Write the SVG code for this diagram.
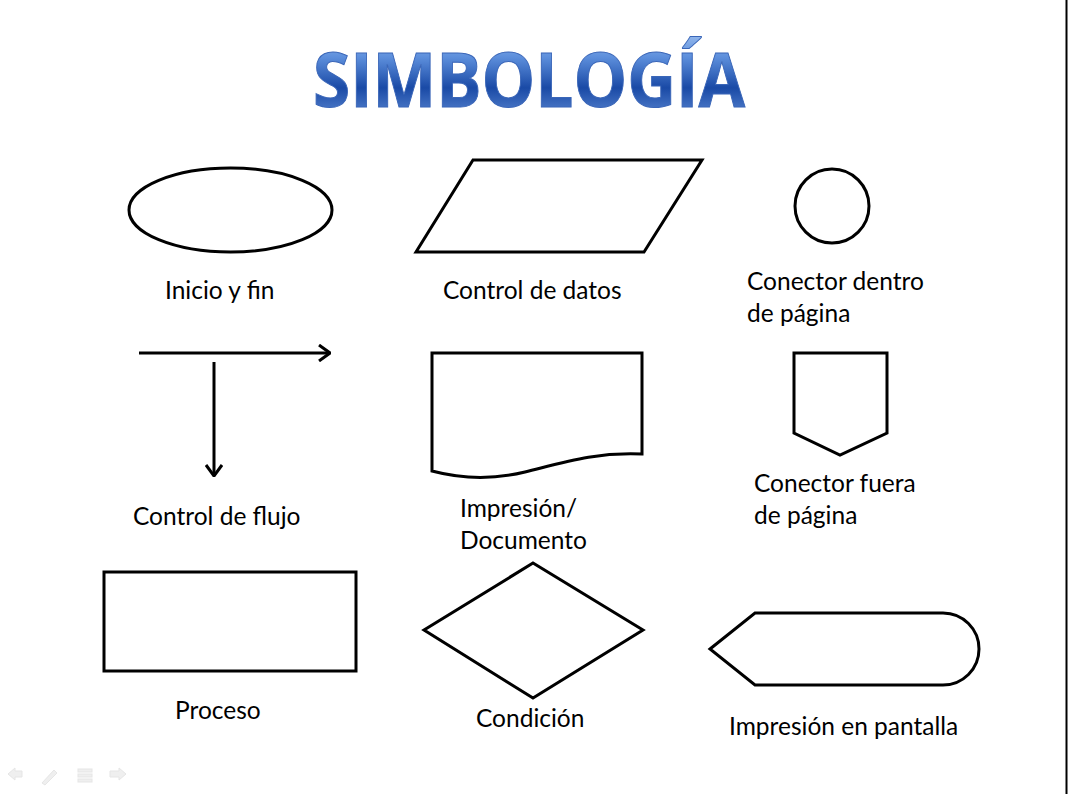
<svg xmlns="http://www.w3.org/2000/svg" width="1068" height="794" viewBox="0 0 1068 794">
  <defs>
    <linearGradient id="titleGrad" x1="0" y1="0" x2="0" y2="1">
      <stop offset="0" stop-color="#a9c8f2"/>
      <stop offset="0.3" stop-color="#5d8fdc"/>
      <stop offset="0.6" stop-color="#1a4aa6"/>
      <stop offset="1" stop-color="#6f9be0"/>
    </linearGradient>
    <marker id="arrow" viewBox="0 0 13 18" refX="12" refY="9" markerWidth="13" markerHeight="18" markerUnits="userSpaceOnUse" orient="auto">
      <path d="M1,1 L12,9 L1,17" fill="none" stroke="#000" stroke-width="3"/>
    </marker>
  </defs>
  <style>
    .shape { fill: #ffffff; stroke: #000000; stroke-width: 3; stroke-linejoin: miter; }
    .lbl { font-family: "Lato", "Liberation Sans", sans-serif; font-size: 24.5px; fill: #000000; }
    .conn { fill: none; stroke: #000000; stroke-width: 3; }
    .nav { fill: #ececec; stroke: #e0e0e0; stroke-width: 1; }
  </style>
  <rect x="0" y="0" width="1068" height="794" fill="#ffffff"/>
  <line x1="1066.5" y1="0" x2="1066.5" y2="794" stroke="#000" stroke-width="2"/>

  <g id="title">
    <text x="529" y="107" text-anchor="middle" font-family="'Open Sans', 'Liberation Sans', sans-serif" font-weight="bold" font-size="76" textLength="432" lengthAdjust="spacingAndGlyphs" fill="url(#titleGrad)" stroke="#3a66b8" stroke-width="1">SIMBOLOGÍA</text>
  </g>

  <g id="inicio-fin">
    <ellipse class="shape" cx="230.5" cy="210" rx="101.5" ry="42"/>
    <text class="lbl" x="165" y="299">Inicio y fin</text>
  </g>

  <g id="control-datos">
    <polygon class="shape" points="473,160 702,160 644,252 416,252"/>
    <text class="lbl" x="443" y="299">Control de datos</text>
  </g>

  <g id="conector-dentro">
    <circle class="shape" cx="832" cy="206" r="37"/>
    <text class="lbl" x="747" y="290">Conector dentro</text>
    <text class="lbl" x="747" y="322">de página</text>
  </g>

  <g id="connectors">
    <line class="conn" x1="139" y1="353" x2="330" y2="353" marker-end="url(#arrow)"/>
    <line class="conn" x1="214" y1="362" x2="214" y2="476" marker-end="url(#arrow)"/>
  </g>

  <g id="control-flujo">
    <text class="lbl" x="133" y="525">Control de flujo</text>
  </g>

  <g id="documento">
    <path class="shape" d="M432,353 H642 V454 C595,452 565,462 525,472 C492,480 462,479 432,471 Z"/>
    <text class="lbl" x="460" y="517">Impresión/</text>
    <text class="lbl" x="460" y="549">Documento</text>
  </g>

  <g id="conector-fuera">
    <polygon class="shape" points="794,353 887,353 887,433 840,455 794,433"/>
    <text class="lbl" x="754" y="492">Conector fuera</text>
    <text class="lbl" x="754" y="524">de página</text>
  </g>

  <g id="proceso">
    <rect class="shape" x="104" y="572" width="252" height="99"/>
    <text class="lbl" x="175" y="719">Proceso</text>
  </g>

  <g id="condicion">
    <polygon class="shape" points="533,563 643,630 533,698 424,630"/>
    <text class="lbl" x="476" y="727">Condición</text>
  </g>

  <g id="pantalla">
    <path class="shape" d="M710,649 L755,613 H943 A36,36 0 0 1 943,685 H755 Z"/>
    <text class="lbl" x="729" y="735">Impresión en pantalla</text>
  </g>

  <g id="nav-icons" opacity="0.8">
    <path class="nav" d="M8,774 L15,768 V771 H22 V777 H15 V780 Z"/>
    <path class="nav" d="M42,783 L54,770 L57,773 L45,785 Z"/>
    <rect class="nav" x="78" y="769" width="14" height="3"/>
    <rect class="nav" x="78" y="774" width="14" height="3"/>
    <rect class="nav" x="78" y="779" width="14" height="3"/>
    <path class="nav" d="M126,774 L119,768 V771 H110 V777 H119 V780 Z"/>
  </g>
</svg>
